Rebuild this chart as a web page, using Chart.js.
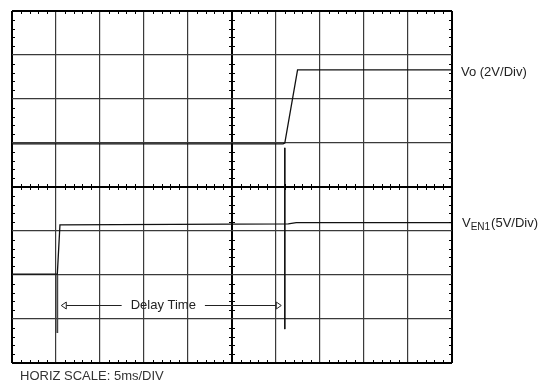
<!DOCTYPE html>
<html>
<head>
<meta charset="utf-8">
<script src="https://cdn.jsdelivr.net/npm/chart.js@4/dist/chart.umd.min.js"></script>
<style>
  body { margin: 0; background: #fff; }
  #wrap { position: relative; width: 543px; height: 384px; }
</style>
</head>
<body>
<div id="wrap"><canvas id="scope" width="543" height="384"></canvas></div>
<script>
// time axis in ms (5 ms/div, 10 div), vertical axis in divisions (8 div)
const voTime = [0, 30.8, 31.0, 32.45, 50];
const voLevel = [4.98, 4.98, 5.0, 6.66, 6.66];

const venTime = [0, 5.15, 5.45, 31.4, 32.3, 50];
const venLevel = [2.02, 2.02, 3.14, 3.16, 3.19, 3.19];

// trigger / output marker lines: [time, from div, to div]
const markerTime = [5.15, 31.0];
const markerFrom = [2.0, 4.89];
const markerTo = [0.68, 0.77];

// delay time arrow
const arrowLevel = 1.32;
const arrowStart = 5.6;
const arrowEnd = 30.6;
const arrowText = 'Delay Time';

const traceLabels = ['Vo (2V/Div)', 'V', 'EN1', '(5V/Div)'];
const horizText = 'HORIZ SCALE: 5ms/DIV';

function pts(xs, ys) {
    return xs.map((x, i) => ({ x: x, y: ys[i] }));
}

const markerSets = markerTime.map((t, i) => ({
    data: [{ x: t, y: markerFrom[i] }, { x: t, y: markerTo[i] }],
    borderColor: i === 0 ? '#444' : '#111',
    borderWidth: i === 0 ? 1.8 : 1,
    showLine: true,
    pointRadius: 0
}));

const FONT = '13px "Liberation Sans", Arial, sans-serif';

// minor ticks, arrows and labels
const scopeDecor = {
    id: 'scopeDecor',
    afterDatasetsDraw(chart) {
        const ctx = chart.ctx;
        const xs = chart.scales.x;
        const ys = chart.scales.y;
        const a = chart.chartArea;
        const cx = xs.getPixelForValue(25);
        const cy = ys.getPixelForValue(4);

        ctx.save();
        ctx.strokeStyle = '#000';
        ctx.lineWidth = 1;
        ctx.beginPath();
        for (let t = 1; t < 50; t++) {
            if (t % 5 === 0) continue;
            const x = Math.round(xs.getPixelForValue(t)) + 0.5;
            ctx.moveTo(x, a.top); ctx.lineTo(x, a.top + 3);
            ctx.moveTo(x, a.bottom); ctx.lineTo(x, a.bottom - 3);
            ctx.moveTo(x, cy - 3); ctx.lineTo(x, cy + 3);
        }
        for (let d = 0.2; d < 8; d += 0.2) {
            if (Math.abs(d - Math.round(d)) < 0.01) continue;
            const y = Math.round(ys.getPixelForValue(d)) + 0.5;
            ctx.moveTo(a.left, y); ctx.lineTo(a.left + 3, y);
            ctx.moveTo(a.right, y); ctx.lineTo(a.right - 3, y);
            ctx.moveTo(cx - 3, y); ctx.lineTo(cx + 3, y);
        }
        ctx.stroke();

        // delay arrow
        ctx.font = FONT;
        ctx.textBaseline = 'middle';
        ctx.textAlign = 'center';
        const ay = Math.round(ys.getPixelForValue(arrowLevel)) + 0.5;
        const x1 = xs.getPixelForValue(arrowStart);
        const x2 = xs.getPixelForValue(arrowEnd);
        const mid = (x1 + x2) / 2 - 8;
        const half = ctx.measureText(arrowText).width / 2 + 9;
        ctx.strokeStyle = '#222';
        ctx.beginPath();
        ctx.moveTo(x1 + 5, ay); ctx.lineTo(mid - half, ay);
        ctx.moveTo(mid + half, ay); ctx.lineTo(x2 - 5, ay);
        ctx.stroke();
        ctx.beginPath();
        ctx.moveTo(x1, ay); ctx.lineTo(x1 + 5, ay - 3.5); ctx.lineTo(x1 + 5, ay + 3.5); ctx.closePath();
        ctx.moveTo(x2, ay); ctx.lineTo(x2 - 5, ay - 3.5); ctx.lineTo(x2 - 5, ay + 3.5); ctx.closePath();
        ctx.fillStyle = '#fff';
        ctx.fill();
        ctx.stroke();
        ctx.fillStyle = '#222';
        ctx.fillText(arrowText, mid, ay);

        // trace labels
        ctx.textAlign = 'left';
        const lx = a.right + 9;
        ctx.fillText(traceLabels[0], lx, ys.getPixelForValue(voLevel[voLevel.length - 1]) + 2);
        const vy = ys.getPixelForValue(venLevel[venLevel.length - 1]) + 1;
        ctx.fillText(traceLabels[1], lx + 1, vy);
        const vw = ctx.measureText(traceLabels[1]).width;
        ctx.font = '10px "Liberation Sans", Arial, sans-serif';
        ctx.fillText(traceLabels[2], lx + 1 + vw, vy + 4);
        const sw = ctx.measureText(traceLabels[2]).width;
        ctx.font = FONT;
        ctx.fillText(traceLabels[3], lx + 2 + vw + sw, vy);

        ctx.fillStyle = '#333';
        ctx.fillText(horizText, a.left + 8, a.bottom + 13);
        ctx.restore();
    }
};

function isMajor(ctx, center, max) {
    const v = ctx.tick ? ctx.tick.value : null;
    return v === 0 || v === center || v === max;
}

new Chart(document.getElementById('scope'), {
    type: 'scatter',
    data: {
        datasets: [
            {
                data: pts(voTime, voLevel),
                borderColor: '#111',
                borderWidth: 1.3,
                showLine: true,
                pointRadius: 0
            },
            {
                data: pts(venTime, venLevel),
                borderColor: '#111',
                borderWidth: 1.3,
                showLine: true,
                pointRadius: 0
            },
            ...markerSets
        ]
    },
    options: {
        responsive: false,
        animation: false,
        layout: { padding: { left: 12, top: 11, right: 91, bottom: 21 } },
        plugins: { legend: { display: false }, tooltip: { enabled: false } },
        scales: {
            x: {
                type: 'linear', min: 0, max: 50,
                ticks: { display: false, stepSize: 5 },
                border: { display: false },
                grid: {
                    drawTicks: false,
                    color: c => isMajor(c, 25, 50) ? '#000' : '#3a3a3a',
                    lineWidth: c => isMajor(c, 25, 50) ? 2 : 1.2
                }
            },
            y: {
                type: 'linear', min: 0, max: 8,
                ticks: { display: false, stepSize: 1 },
                border: { display: false },
                grid: {
                    drawTicks: false,
                    color: c => isMajor(c, 4, 8) ? '#000' : '#3a3a3a',
                    lineWidth: c => isMajor(c, 4, 8) ? 2 : 1.2
                }
            }
        }
    },
    plugins: [scopeDecor]
});
</script>
</body>
</html>
